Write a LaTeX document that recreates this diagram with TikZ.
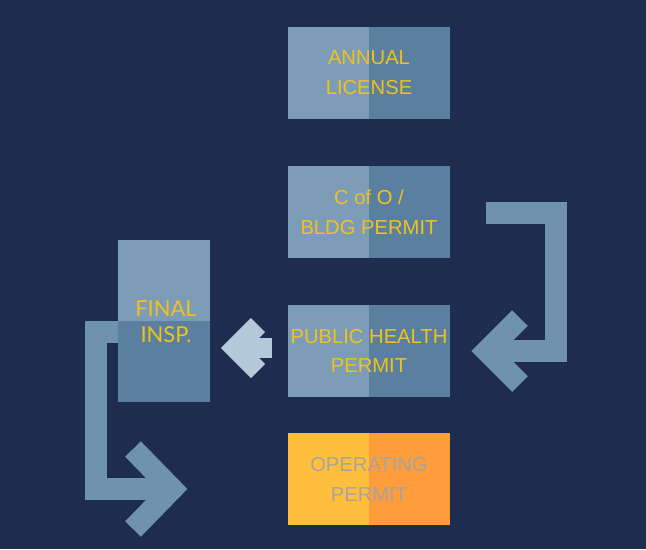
\documentclass[tikz,border=0pt]{standalone}
\usepackage{fontspec}
\setmainfont{Liberation Sans}
\newfontfamily\latofont{Lato}
\usetikzlibrary{positioning}
\definecolor{bgnavy}{HTML}{1E2C4F}
\definecolor{boxlight}{HTML}{7C9CB8}
\definecolor{boxdark}{HTML}{5A7F9F}
\definecolor{flowarrow}{HTML}{6F92AE}
\definecolor{backarrow}{HTML}{B4CADB}
\definecolor{labelgold}{HTML}{F0C21E}
\definecolor{opleft}{HTML}{FFBF3C}
\definecolor{opright}{HTML}{FF9D3C}
\definecolor{optext}{HTML}{A7A49C}
\tikzset{
  step box/.style={minimum width=3.24cm, minimum height=1.84cm, inner sep=0pt,
    align=center, text=labelgold, font=\fontsize{11.5}{17}\selectfont,
    path picture={
      \fill [#1!0!boxlight] (path picture bounding box.south west) rectangle (path picture bounding box.north);
      \fill [boxdark] (path picture bounding box.south) rectangle (path picture bounding box.north east);
    }},
  op box/.style={minimum width=3.24cm, minimum height=1.84cm, inner sep=0pt,
    align=center, text=optext, font=\fontsize{11.5}{17}\selectfont,
    path picture={
      \fill [opleft] (path picture bounding box.south west) rectangle (path picture bounding box.north);
      \fill [opright] (path picture bounding box.south) rectangle (path picture bounding box.north east);
    }},
  insp box/.style={minimum width=1.84cm, minimum height=3.24cm, inner sep=0pt,
    align=center, text=labelgold, font=\latofont\fontsize{12.5}{15}\selectfont,
    path picture={
      \fill [boxlight] (path picture bounding box.west) rectangle (path picture bounding box.north east);
      \fill [boxdark] (path picture bounding box.south west) rectangle (path picture bounding box.east);
    }},
  bent arrow/.style={draw=flowarrow, line width=0.44cm, line join=miter},
}
\begin{document}
\begin{tikzpicture}[x=0.02cm, y=-0.02cm]
      \fill [bgnavy] (0, 0) rectangle (646, 549);
      \useasboundingbox (0, 0) rectangle (646, 549);

      \node [step box=white] (license) at (369, 73) {ANNUAL\\LICENSE};
      \node [step box=white] (cofo) at (369, 212) {C of O /\\BLDG PERMIT};
      \node [step box=white] (health) at (369, 351) {PUBLIC HEALTH\\PERMIT};
      \node [op box] (operating) at (369, 479) {OPERATING\\PERMIT};
      \node [insp box, text depth=0pt] (final) at (164, 321) {};
      \node [text=labelgold, font=\latofont\fontsize{12.5}{15}\selectfont, align=center] (finaltext) at (166, 322) {FINAL\\INSP.};

      \coordinate (rtop) at (486, 213);
      \coordinate (rcorner) at (556, 213);
      \coordinate (rbottom) at (556, 351);
      \coordinate (rtip) at (487, 351);
      \draw [bent arrow] (rtop) -- (rcorner) -- (rbottom) -- (rtip);
      \draw [bent arrow] (520, 318) -- (rtip) -- (520, 384);

      \coordinate (ltop) at (final.west |- 0, 332);
      \coordinate (lcorner) at (96, 332);
      \coordinate (lbottom) at (96, 489);
      \coordinate (ltip) at (172, 489);
      \draw [bent arrow] (ltop) -- (lcorner) -- (lbottom) -- (ltip);
      \draw [bent arrow] (133, 449) -- (ltip) -- (133, 529);

      \coordinate (btip) at (235, 348);
      \draw [draw=backarrow, line width=0.4cm, line join=miter] (258, 325) -- (btip) -- (258, 371);
      \draw [draw=backarrow, line width=0.4cm] (btip) -- (272, 348);
    \end{tikzpicture}
\end{document}
